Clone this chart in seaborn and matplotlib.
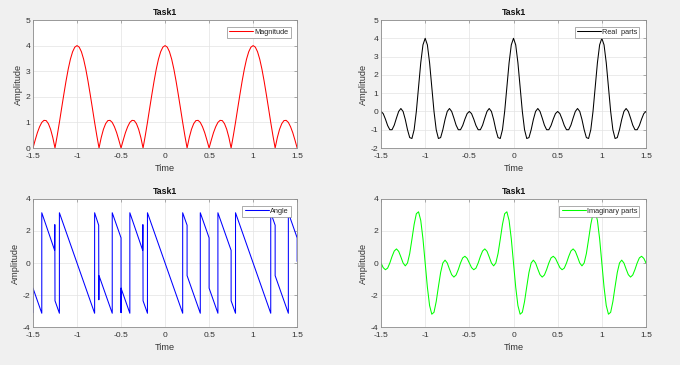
import matplotlib
matplotlib.use("Agg")
import pandas as pd
import matplotlib.pyplot as plt
import seaborn as sns

# sample times, step 0.025
time = [
    -1.5, -1.475, -1.45, -1.425, -1.4, -1.375, -1.35, -1.325, -1.3, -1.275,
    -1.25, -1.225, -1.2, -1.175, -1.15, -1.125, -1.1, -1.075, -1.05, -1.025,
    -1.0, -0.975, -0.95, -0.925, -0.9, -0.875, -0.85, -0.825, -0.8, -0.775,
    -0.75, -0.725, -0.7, -0.675, -0.65, -0.625, -0.6, -0.575, -0.55, -0.525,
    -0.5, -0.475, -0.45, -0.425, -0.4, -0.375, -0.35, -0.325, -0.3, -0.275,
    -0.25, -0.225, -0.2, -0.175, -0.15, -0.125, -0.1, -0.075, -0.05, -0.025,
    0.0, 0.025, 0.05, 0.075, 0.1, 0.125, 0.15, 0.175, 0.2, 0.225,
    0.25, 0.275, 0.3, 0.325, 0.35, 0.375, 0.4, 0.425, 0.45, 0.475,
    0.5, 0.525, 0.55, 0.575, 0.6, 0.625, 0.65, 0.675, 0.7, 0.725,
    0.75, 0.775, 0.8, 0.825, 0.85, 0.875, 0.9, 0.925, 0.95, 0.975,
    1.0, 1.025, 1.05, 1.075, 1.1, 1.125, 1.15, 1.175, 1.2, 1.225,
    1.25, 1.275, 1.3, 1.325, 1.35, 1.375, 1.4, 1.425, 1.45, 1.475,
    1.5,
]

magnitude = [
    0.00, 0.31, 0.60, 0.83, 1.00, 1.08, 1.07, 0.95, 0.73, 0.41,
    0.00, 0.48, 1.00, 1.55, 2.09, 2.61, 3.08, 3.47, 3.76, 3.94,
    4.00, 3.94, 3.76, 3.47, 3.08, 2.61, 2.09, 1.55, 1.00, 0.48,
    0.00, 0.41, 0.73, 0.95, 1.07, 1.08, 1.00, 0.83, 0.60, 0.31,
    0.00, 0.31, 0.60, 0.83, 1.00, 1.08, 1.07, 0.95, 0.73, 0.41,
    0.00, 0.48, 1.00, 1.55, 2.09, 2.61, 3.08, 3.47, 3.76, 3.94,
    4.00, 3.94, 3.76, 3.47, 3.08, 2.61, 2.09, 1.55, 1.00, 0.48,
    0.00, 0.41, 0.73, 0.95, 1.07, 1.08, 1.00, 0.83, 0.60, 0.31,
    0.00, 0.31, 0.60, 0.83, 1.00, 1.08, 1.07, 0.95, 0.73, 0.41,
    0.00, 0.48, 1.00, 1.55, 2.09, 2.61, 3.08, 3.47, 3.76, 3.94,
    4.00, 3.94, 3.76, 3.47, 3.08, 2.61, 2.09, 1.55, 1.00, 0.48,
    0.00, 0.41, 0.73, 0.95, 1.07, 1.08, 1.00, 0.83, 0.60, 0.31,
    0.00,
]

real_part = [
    0.00, -0.12, -0.42, -0.77, -1.00, -1.00, -0.75, -0.36, 0.00, 0.16,
    0.00, -0.44, -1.00, -1.43, -1.48, -1.00, 0.00, 1.33, 2.66, 3.64,
    4.00, 3.64, 2.66, 1.33, 0.00, -1.00, -1.48, -1.43, -1.00, -0.44,
    0.00, 0.16, 0.00, -0.36, -0.75, -1.00, -1.00, -0.77, -0.42, -0.12,
    0.00, -0.12, -0.42, -0.77, -1.00, -1.00, -0.75, -0.36, 0.00, 0.16,
    0.00, -0.44, -1.00, -1.43, -1.48, -1.00, 0.00, 1.33, 2.66, 3.64,
    4.00, 3.64, 2.66, 1.33, 0.00, -1.00, -1.48, -1.43, -1.00, -0.44,
    0.00, 0.16, 0.00, -0.36, -0.75, -1.00, -1.00, -0.77, -0.42, -0.12,
    0.00, -0.12, -0.42, -0.77, -1.00, -1.00, -0.75, -0.36, 0.00, 0.16,
    0.00, -0.44, -1.00, -1.43, -1.48, -1.00, 0.00, 1.33, 2.66, 3.64,
    4.00, 3.64, 2.66, 1.33, 0.00, -1.00, -1.48, -1.43, -1.00, -0.44,
    0.00, 0.16, 0.00, -0.36, -0.75, -1.00, -1.00, -0.77, -0.42, -0.12,
    0.00,
]

imag_part = [
    0.00, -0.29, -0.42, -0.32, 0.00, 0.41, 0.75, 0.88, 0.73, 0.38,
    0.00, -0.18, 0.00, 0.59, 1.48, 2.41, 3.08, 3.20, 2.66, 1.51,
    0.00, -1.51, -2.66, -3.20, -3.08, -2.41, -1.48, -0.59, 0.00, 0.18,
    0.00, -0.38, -0.73, -0.88, -0.75, -0.41, 0.00, 0.32, 0.42, 0.29,
    0.00, -0.29, -0.42, -0.32, 0.00, 0.41, 0.75, 0.88, 0.73, 0.38,
    0.00, -0.18, 0.00, 0.59, 1.48, 2.41, 3.08, 3.20, 2.66, 1.51,
    0.00, -1.51, -2.66, -3.20, -3.08, -2.41, -1.48, -0.59, 0.00, 0.18,
    0.00, -0.38, -0.73, -0.88, -0.75, -0.41, 0.00, 0.32, 0.42, 0.29,
    0.00, -0.29, -0.42, -0.32, 0.00, 0.41, 0.75, 0.88, 0.73, 0.38,
    0.00, -0.18, 0.00, 0.59, 1.48, 2.41, 3.08, 3.20, 2.66, 1.51,
    0.00, -1.51, -2.66, -3.20, -3.08, -2.41, -1.48, -0.59, 0.00, 0.18,
    0.00, -0.38, -0.73, -0.88, -0.75, -0.41, 0.00, 0.32, 0.42, 0.29,
    0.00,
]

# phase: straight runs between the jumps, read at the break points
angle_time = [
    -1.5, -1.5, -1.4, -1.4, -1.254, -1.252, -1.25, -1.2, -1.2, -0.8, -0.8,
    -0.754, -0.752, -0.75, -0.6, -0.6, -0.5, -0.5, -0.5, -0.4, -0.4,
    -0.254, -0.252, -0.25, -0.2, -0.2, 0.2, 0.2, 0.25, 0.25, 0.4, 0.4,
    0.5, 0.5, 0.6, 0.6, 0.75, 0.75, 0.8, 0.8, 1.2, 1.2, 1.25, 1.25,
    1.4, 1.4, 1.5, 1.5,
]
angle_value = [
    -3.1, -1.57, -3.14, 3.14, 0.79, 2.4, -2.36, -3.14, 3.14, -3.14, 3.14,
    2.36, -2.3, -0.79, -3.14, 3.14, 1.57, -3.1, -1.57, -3.14, 3.14,
    0.79, 2.4, -2.36, -3.14, 3.14, -3.14, 3.14, 2.36, -0.79, -3.14, 3.14,
    1.57, -1.57, -3.14, 3.14, 0.79, -2.36, -3.14, 3.14, -3.14, 3.14, 2.36, -0.79,
    -3.14, 3.14, 1.57, 0.1,
]

x_ticks = [-1.5, -1, -0.5, 0, 0.5, 1, 1.5]
x_tick_labels = ['-1.5', '-1', '-0.5', '0', '0.5', '1', '1.5']

sns.set_style("whitegrid", {'grid.color': '#e3e3e3', 'axes.edgecolor': '#8c8c8c'})
plt.rcParams['font.family'] = ['Liberation Sans', 'DejaVu Sans']

fig = plt.figure(figsize=(6.8, 3.65), dpi=100, facecolor='#f0f0f0')

panels = [
    # rect, x, y, color, label, ylim, yticks
    ([0.0485, 0.5945, 0.3885, 0.3507], time, magnitude, '#ff0000', 'Magnitude', (0, 5), [0, 1, 2, 3, 4, 5]),
    ([0.5603, 0.5945, 0.3897, 0.3507], time, real_part, '#000000', 'Real  parts', (-2, 5), [-2, -1, 0, 1, 2, 3, 4, 5]),
    ([0.0485, 0.1041, 0.3885, 0.3507], angle_time, angle_value, '#0000ff', 'Angle', (-4, 4), [-4, -2, 0, 2, 4]),
    ([0.5603, 0.1041, 0.3897, 0.3507], time, imag_part, '#00ff00', 'Imaginary parts', (-4, 4), [-4, -2, 0, 2, 4]),
]

for rect, xs, ys, color, label, ylim, yticks in panels:
    ax = fig.add_axes(rect)
    df = pd.DataFrame({'Time': xs, 'Amplitude': ys})
    sns.lineplot(data=df, x='Time', y='Amplitude', ax=ax, color=color, linewidth=0.75,
                 estimator=None, sort=False, label=label)
    ax.set_facecolor('white')
    ax.set_xlim(-1.5, 1.5)
    ax.set_ylim(*ylim)
    ax.set_xticks(x_ticks)
    ax.set_xticklabels(x_tick_labels)
    ax.set_yticks(yticks)
    ax.set_yticklabels([str(v) for v in yticks])
    ax.grid(True, color='#e3e3e3', linewidth=0.5)
    ax.tick_params(labelsize=6.1, colors='#8c8c8c', labelcolor='#333333', direction='in',
                   length=2, width=0.5, top=True, right=True)
    ax.tick_params(axis='x', pad=3.5)
    ax.tick_params(axis='y', pad=2)
    for s in ax.spines.values():
        s.set_color('#8c8c8c')
        s.set_linewidth(0.6)
    ax.set_title('Task1', fontsize=6.3, fontweight='bold', pad=3.5, color='#111111')
    ax.set_xlabel('Time', fontsize=6.6, labelpad=3, color='#333333')
    ax.set_ylabel('Amplitude', fontsize=6.6, labelpad=2, color='#333333')
    leg = ax.legend(loc='upper right', fontsize=5.3, handlelength=3.3, handletextpad=0.1,
                    borderpad=0.3, borderaxespad=0.9, fancybox=False, framealpha=1)
    leg.get_frame().set_edgecolor('#8c8c8c')
    leg.get_frame().set_linewidth(0.5)

fig.savefig('out.png', dpi=100, facecolor=fig.get_facecolor())
